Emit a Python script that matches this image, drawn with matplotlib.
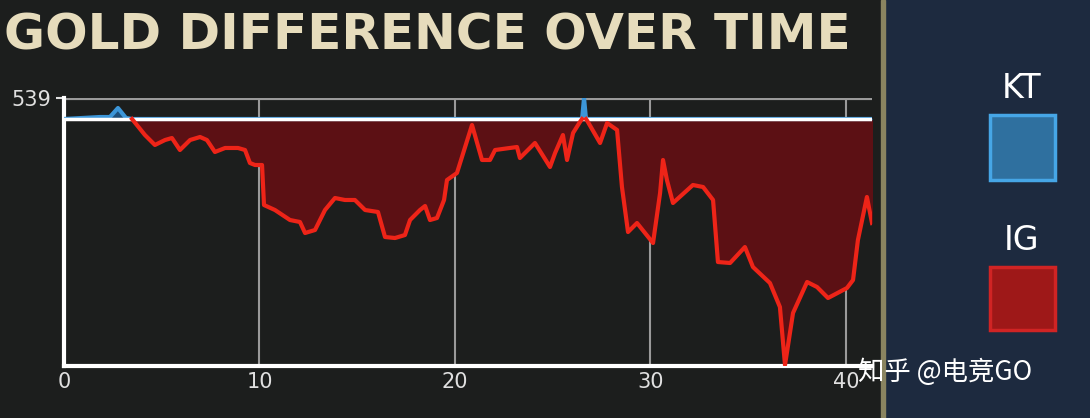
import numpy as np
import matplotlib.pyplot as plt
from matplotlib.patches import Rectangle

# gold difference (KT - IG), minutes / gold
minutes = [0, 1.84, 2.35, 2.76, 3.17, 3.48, 4.14, 4.65, 5.17, 5.52, 5.93, 6.45, 6.96, 7.31, 7.72,
           8.24, 8.90, 9.26, 9.51, 9.77, 10.13, 10.23, 10.79, 11.56, 12.07, 12.33, 12.84, 13.35,
           13.86, 14.37, 14.88, 15.40, 16.06, 16.42, 16.93, 17.44, 17.70, 18.21, 18.47, 18.72,
           19.08, 19.44, 19.59, 20.10, 20.87, 21.38, 21.79, 22.05, 23.17, 23.32, 24.09, 24.86,
           25.12, 25.52, 25.73, 26.04, 26.39, 26.5, 26.60, 26.7, 26.80, 27.42, 27.78, 28.29,
           28.54, 28.85, 29.31, 30.13, 30.49, 30.64, 30.84, 31.15, 32.17, 32.69, 33.20, 33.45,
           34.07, 34.83, 35.24, 36.11, 36.62, 36.88, 37.29, 38.01, 38.52, 39.08, 40.05, 40.36,
           40.61, 41.07, 41.33]
gold = [0, 51, 51, 282, 26, 0, -411, -667, -539, -488, -796, -539, -462, -539, -847,
        -744, -744, -796, -1129, -1181, -1181, -2208, -2336, -2593, -2644, -2926, -2849, -2336,
        -2028, -2079, -2079, -2336, -2387, -3029, -3055, -2978, -2593, -2336, -2233, -2593,
        -2541, -2079, -1566, -1386, -154, -1052, -1052, -796, -719, -1001, -616, -1232,
        -873, -411, -1052, -359, -77, 0, 539, 0, -77, -616, -103, -282,
        -1745, -2901, -2670, -3183, -1900, -1052, -1566, -2156, -1694, -1746, -2079, -3671,
        -3696, -3286, -3799, -4210, -4826, -6315, -4980, -4184, -4313, -4595, -4338, -4133,
        -3106, -2002, -2670]
xticks = [0, 10, 20, 30, 40]
y_max, y_min = 539, -6340
teams = ["KT", "IG"]

t = np.array(minutes)
g = np.array(gold)

fig = plt.figure(figsize=(10.9, 4.18), dpi=100)
fig.patch.set_facecolor('#1c1e1d')
# right side panel
fig.patches.append(Rectangle((885/1090, 0), 1, 1, transform=fig.transFigure, color='#1d2a3f', zorder=0))
fig.patches.append(Rectangle((881/1090, 0), 4/1090, 1, transform=fig.transFigure, color='#8a8460', zorder=1))

fig.text(0.004, 0.915, "GOLD DIFFERENCE OVER TIME", color='#e6dcbc', fontsize=36, fontweight='bold',
         family=['Liberation Sans Narrow', 'DejaVu Sans'], va='center', ha='left')

ax = fig.add_axes([64/1090, 52/418, 808/1090, 268/418])
ax.set_facecolor('none')
ax.set_xlim(0, 41.33)
ax.set_ylim(y_min, y_max)
for x in xticks[1:]:
    ax.axvline(x, color='#9a9a9a', lw=1.5, zorder=1)
ax.axhline(y_max, color='#9a9a9a', lw=3, zorder=1)
ax.fill_between(t, np.minimum(g, 0), 0, color='#5c1014', zorder=2)
ax.fill_between(t, np.maximum(g, 0), 0, color='#1d4f7a', zorder=2)
ax.plot(t, np.maximum(g, 0), color='#3c96d8', lw=3, zorder=3)
ax.axhline(0, color='white', lw=2.5, zorder=3.5)
ax.plot(t, np.ma.masked_greater(g, 0), color='#ee2418', lw=3, zorder=4)

for s in ['top', 'right']:
    ax.spines[s].set_visible(False)
for s in ['left', 'bottom']:
    ax.spines[s].set_color('white')
    ax.spines[s].set_linewidth(3)
ax.set_xticks(xticks)
ax.set_yticks([y_max])
ax.set_yticklabels([str(y_max)])
ax.tick_params(colors='#e0e0e0', labelsize=15, length=6, width=1.5)
ax.tick_params(axis='x', length=0, pad=4)

# legend
fig.text(1022/1090, 1 - 88/418, teams[0], color='white', fontsize=24, ha='center', va='center')
fig.patches.append(Rectangle((990/1090, 1 - 180/418), 65/1090, 65/418, transform=fig.transFigure,
                             facecolor='#2f709f', edgecolor='#46a6e6', lw=2.5, zorder=2))
fig.text(1022/1090, 1 - 240/418, teams[1], color='white', fontsize=24, ha='center', va='center')
fig.patches.append(Rectangle((990/1090, 1 - 330/418), 65/1090, 63/418, transform=fig.transFigure,
                             facecolor='#9e1818', edgecolor='#d02424', lw=2.5, zorder=2))

fig.text(858/1090, 1 - 372/418, "知乎 @电竞GO", color='white', fontsize=19, ha='left', va='center',
         family=['Noto Sans CJK SC', 'DejaVu Sans'])

fig.savefig('out.png', dpi=100, facecolor=fig.get_facecolor())
